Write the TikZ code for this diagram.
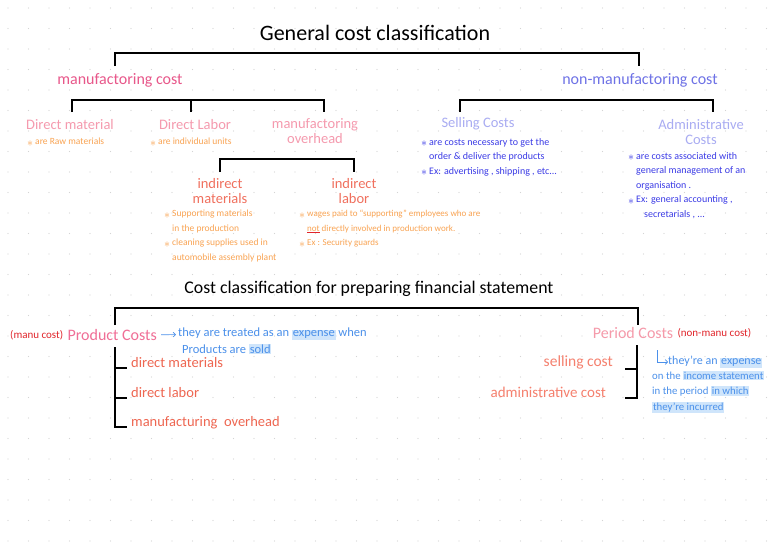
\documentclass[tikz,border=0pt]{standalone}
\usepackage{fontspec}
\setmainfont{Carlito}
\usetikzlibrary{positioning}
\usetikzlibrary{arrows.meta}
\tikzset{>={Straight Barb[scale=.8]}}

\definecolor{mfgpink}{HTML}{E8578A}
\definecolor{lightpink}{HTML}{F59AAE}
\definecolor{noteorange}{HTML}{F9A352}
\definecolor{nonblue}{HTML}{6E72E6}
\definecolor{lightblue}{HTML}{A9ACF2}
\definecolor{noteblue}{HTML}{3B3BE6}
\definecolor{salmon}{HTML}{F0705E}
\definecolor{prodpink}{HTML}{F06E96}
\definecolor{perpink}{HTML}{F59AAA}
\definecolor{listred}{HTML}{EE6651}
\definecolor{selred}{HTML}{F5806E}
\definecolor{annoblue}{HTML}{4B90EA}
\definecolor{hlblue}{HTML}{CFE5FB}
\definecolor{manured}{HTML}{E1252B}
\definecolor{dotgray}{HTML}{D4D4D4}

\newcommand{\bul}{\makebox[8pt][l]{\raisebox{-1.5pt}{\fontsize{13}{13}\selectfont$\ast$}}}
\newcommand{\ind}{\hspace*{8pt}}
\newcommand{\hl}[1]{{\setlength{\fboxsep}{0.8pt}\colorbox{hlblue}{#1}}}

\tikzset{
  bracket/.style={line width=1.3pt, black},
  ttl/.style={inner sep=0pt, font=\fontsize{22}{24}\selectfont},
  head/.style={inner sep=0pt, font=\fontsize{16}{18}\selectfont},
  sub/.style={inner sep=0pt, align=center, font=\fontsize{14.5}{15}\selectfont},
  note/.style={inner sep=0pt, align=left, font=\fontsize{9.5}{14.5}\selectfont},
  item/.style={inner sep=0pt, anchor=west, font=\fontsize{14.5}{15}\selectfont},
  anno/.style={inner sep=0pt, anchor=west, text=annoblue, font=\fontsize{12.5}{15}\selectfont},
  annoline/.style={annoblue, line width=0.7pt, ->},
}

\begin{document}
\begin{tikzpicture}[x=1pt, y=-1pt]
  \useasboundingbox (0,0) rectangle (768,544);
  \fill[white] (0,0) rectangle (768,544);
  % dotted paper
  \foreach \i in {0,...,37}
    \foreach \j in {0,...,26}
      \fill[dotgray] (8+\i*20.5, 8+\j*20.5) circle (0.6pt);

  % general classification
  \node[ttl] (gen) at (375,33) {General cost classification};
  \node[head, text=mfgpink] (mfg) at (120,80) {manufactoring cost};
  \node[head, text=nonblue] (nmfg) at (640,80) {non-manufactoring cost};
  \coordinate (mfgtop) at (115,66);
  \coordinate (nmfgtop) at (639,66);
  \draw[bracket] (mfgtop) -- ++(0,-13) -| (nmfgtop);

  \node[sub, text=lightpink] (dmat) at (70,125) {Direct material};
  \node[sub, text=lightpink] (dlab) at (195,125) {Direct Labor};
  \node[sub, text=lightpink] (moh) at (315,131) {manufactoring\\overhead};
  \coordinate (dmattop) at (72,112);
  \coordinate (dlabtop) at (191,112);
  \coordinate (mohtop) at (324,112);
  \draw[bracket] (dmattop) -- ++(0,-12) -| (mohtop);
  \draw[bracket] (dlabtop) -- ++(0,-12);

  \node[note, anchor=west, text=noteorange] (dmatn) at (27,142) {\bul are Raw materials};
  \node[note, anchor=west, text=noteorange] (dlabn) at (150,142) {\bul are individual units};

  \node[sub, text=lightblue] (sell) at (478,124) {Selling Costs};
  \node[sub, text=lightblue] (adm) at (701,132) {Administrative\\Costs};
  \coordinate (selltop) at (460,112);
  \coordinate (admtop) at (713,112);
  \draw[bracket] (selltop) -- ++(0,-12) -| (admtop);
  \node[note, anchor=north west, text=noteblue, font=\fontsize{10}{14.5}\selectfont] (selln) at (421,138)
    {\bul are costs necessary to get the\\ \ind order \& deliver the products\\ \bul Ex: advertising , shipping , etc...};
  \node[note, anchor=north west, text=noteblue, font=\fontsize{10}{14.5}\selectfont] (admn) at (628,152)
    {\bul are costs associated with\\ \ind general management of an\\ \ind organisation .\\ \bul Ex: general accounting ,\\ \ind\ind secretarials , ...};

  % overhead split
  \node[sub, text=salmon] (imat) at (220,191) {indirect\\materials};
  \node[sub, text=salmon] (ilab) at (354,191) {indirect\\labor};
  \coordinate (imattop) at (220,172);
  \coordinate (ilabtop) at (354,172);
  \draw[bracket] (imattop) -- ++(0,-13) -| (ilabtop);
  \node[note, anchor=north west, text=noteorange] (imatn) at (164,210)
    {\bul Supporting materials\\ \ind in the production\\ \bul cleaning supplies used in\\ \ind automobile assembly plant};
  \node[note, anchor=north west, text=noteorange, font=\fontsize{9}{14.5}\selectfont] (ilabn) at (299,210)
    {\bul wages paid to ``supporting'' employees who are\\ \ind {\color{manured}\underline{\color{noteorange}not}} directly involved in production work.\\ \bul Ex : Security guards};

  % financial statement classification
  \node[ttl, font=\fontsize{17.8}{20}\selectfont] (fin) at (369,289) {Cost classification for preparing financial statement};
  \node[inner sep=0pt, anchor=west, text=manured, font=\fontsize{11}{12}\selectfont] (manu) at (10,335) {(manu cost)};
  \node[head, text=prodpink, right=4pt of manu] (prod) {Product Costs};
  \node[head, text=perpink] (per) at (633,333) {Period Costs};
  \node[inner sep=0pt, text=manured, font=\fontsize{11}{12}\selectfont, right=4pt of per] (nonmanu) {(non-manu cost)};
  \coordinate (prodtop) at (115,325);
  \coordinate (pertop) at (638,325);
  \draw[bracket] (prodtop) -- ++(0,-17) -| (pertop);

  \node[anno] (treat1) at (178,334) {they are treated as an \hl{expense} when};
  \node[anno] (treat2) at (182,349) {Products are \hl{sold}};
  \draw[annoline, shorten <=4pt, shorten >=2pt] (prod) -- (treat1);

  \node[item, text=listred] (dmats) at (131,363) {direct materials};
  \node[item, text=listred] (dlabs) at (131,393) {direct labor};
  \node[item, text=listred] (mohs) at (131,423) {manufacturing\ \ overhead};
  \coordinate (pcb) at (115,347);
  \coordinate (dmatend) at (127,368);
  \coordinate (dlabend) at (127,398);
  \coordinate (mohend) at (127,427);
  \draw[bracket] (pcb) |- (mohend);
  \draw[bracket] (115,368) -- (dmatend);
  \draw[bracket] (115,398) -- (dlabend);

  \node[item, anchor=east, text=selred, font=\fontsize{15.5}{16}\selectfont] (sells) at (613,362) {selling cost};
  \node[item, anchor=east, text=selred, font=\fontsize{15}{16}\selectfont] (adms) at (606,392) {administrative cost};
  \coordinate (pcbr) at (637,345);
  \coordinate (sellend) at (625,369);
  \coordinate (admend) at (625,398);
  \draw[bracket] (pcbr) |- (admend);
  \draw[bracket] (637,369) -- (sellend);

  \node[anno, font=\fontsize{12}{15}\selectfont] (per1) at (668,362) {they're an \hl{expense}};
  \node[anno, anchor=north west, align=left, font=\fontsize{10.8}{15.3}\selectfont] (per2) at (652,371)
    {on the \hl{income statement}\\ in the period \hl{in which}\\ \hl{they're incurred}};
  \coordinate (hook) at (657,350);
  \draw[annoline] (hook) |- (per1);
\end{tikzpicture}
\end{document}
